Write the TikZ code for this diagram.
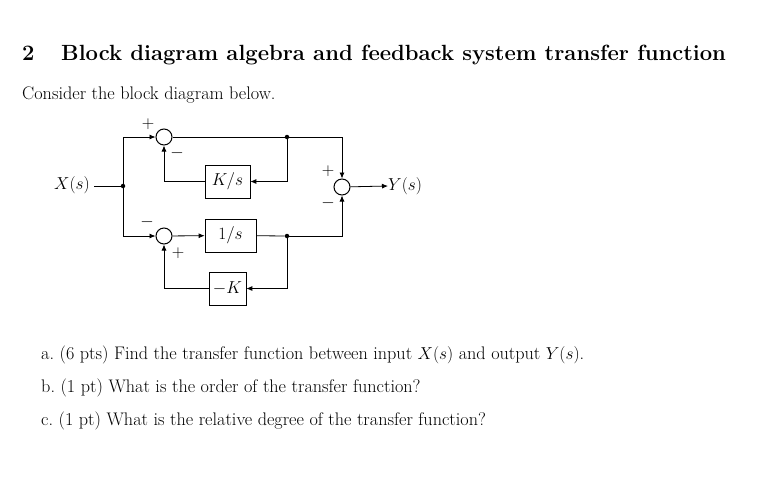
\documentclass[tikz,border=0pt]{standalone}
\usetikzlibrary{arrows.meta}
\begin{document}
\begin{tikzpicture}[x=1pt,y=-1pt,
 sumc/.style={circle,draw,line width=1pt,minimum size=16pt,inner sep=0pt},
 blk/.style={draw,line width=0.7pt,inner sep=0pt,font=\fontsize{17}{20}\selectfont},
 ln/.style={line width=0.8pt},
 ar/.style={ln,-{Latex[length=6pt,width=5pt]}},
 dot/.style={circle,fill,inner sep=0pt,minimum size=4.5pt},
 sg/.style={font=\fontsize{16}{17}\selectfont,inner sep=0pt},
 txt/.style={anchor=base west,inner sep=0pt,font=\fontsize{18.2}{22}\selectfont}]
\useasboundingbox (0,0) rectangle (784,477);
\node[anchor=base west,inner sep=0pt,font=\fontsize{22}{26}\selectfont\bfseries] (title) at (22,60) {2};
\node[anchor=base west,inner sep=0pt,font=\fontsize{22}{26}\selectfont\bfseries] (title2) at (61,60) {Block diagram algebra and feedback system transfer function};
\node[txt] (cons) at (22,99) {Consider the block diagram below.};
\node[txt] (qa) at (41,359) {a.\ (6 pts) Find the transfer function between input $X(s)$ and output $Y(s)$.};
\node[txt] (qb) at (41,392) {b.\ (1 pt) What is the order of the transfer function?};
\node[txt] (qc) at (41,425) {c.\ (1 pt) What is the relative degree of the transfer function?};
% diagram
\node[anchor=east,inner sep=0pt,font=\fontsize{17}{20}\selectfont] (X) at (90,185) {$X(s)$};
\coordinate (xs) at (94,186);
\node[dot] (j) at (123,186) {};
\node[sumc] (s1) at (164,137) {};
\node[sumc] (s2) at (164,236) {};
\node[sumc] (s3) at (342,187) {};
\node[blk,minimum width=45pt,minimum height=33pt] (ks) at (227.5,181.5) {$K/s$};
\node[blk,minimum width=51pt,minimum height=33pt] (is) at (230.5,235.5) {$1/s$};
\node[blk,minimum width=37pt,minimum height=33pt] (mk) at (227.5,288.5) {$-K$};
\node[dot] (d1) at (287,137) {};
\node[dot] (d2) at (287,236) {};
\node[anchor=west,inner sep=0pt,font=\fontsize{17}{20}\selectfont] (Y) at (388,186) {$Y(s)$};
\draw[ln] (xs) -- (j);
\draw[ar] (j) |- (s1);
\draw[ar] (j) |- (s2);
\draw[ln] (s1) -- (d1);
\draw[ar] (d1) -| (s3);
\draw[ar] (d1) |- (ks);
\draw[ar] (ks) -| (s1);
\draw[ar] (s2) -- (is);
\draw[ln] (is) -- (d2);
\draw[ar] (d2) -| (s3);
\draw[ar] (d2) |- (mk);
\draw[ar] (mk) -| (s2);
\draw[ar] (s3) -- (Y.west);
\node[sg] at (148,124) {$+$};
\node[sg] at (177,153) {$-$};
\node[sg] at (147,222) {$-$};
\node[sg] at (178,253) {$+$};
\node[sg] at (328,171) {$+$};
\node[sg] at (328,203) {$-$};
\end{tikzpicture}
\end{document}
